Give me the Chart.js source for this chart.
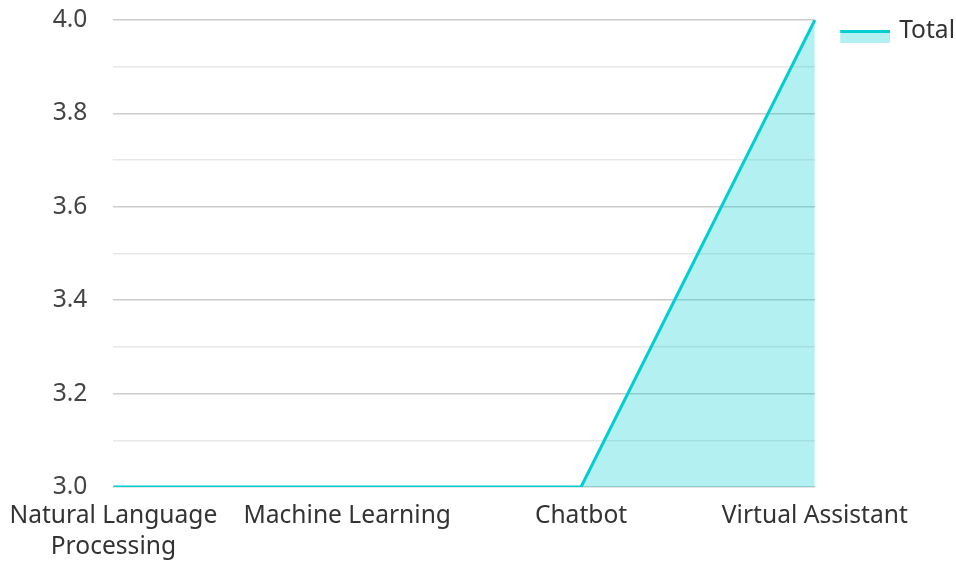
<!DOCTYPE html>
<html lang="en">
  <head>
    <meta charset="UTF-8" />
    <title>Total</title>
    <script src="https://cdn.jsdelivr.net/npm/chart.js"></script>
    <style>
      html, body { margin: 0; padding: 0; background: #fff; }
      #wrap { width: 956px; height: 561px; }
    </style>
  </head>
  <body>
    <div id="wrap"><canvas id="chart" width="956" height="561"></canvas></div>
    <script>
      // Daten
      const categories = [["Natural Language", "Processing"], "Machine Learning", "Chatbot", "Virtual Assistant"];
      const totalValues = [3, 3, 3, 4];
      const seriesName = "Total";

      const lineColor = "#00CED1";
      const fillColor = "rgba(0, 206, 209, 0.3)";
      const fontSize = 24.6;

      // Legendensymbol: dicke Linie oben, helle Flaeche darunter
      // (Canvas groesser als das Symbol, damit Abstand und Hoehe stimmen)
      const symW = 53.3;
      const swatch = document.createElement("canvas");
      swatch.width = 60;
      swatch.height = 26;
      const sctx = swatch.getContext("2d");
      sctx.fillStyle = fillColor;
      sctx.fillRect(swatch.width - 50, 15, 50, 10);
      sctx.fillStyle = lineColor;
      sctx.fillRect(swatch.width - 50, 12, 50, 3);

      Chart.defaults.font.family = "'Noto Sans', sans-serif";

      const ctx = document.getElementById("chart").getContext("2d");
      const chart = new Chart(ctx, {
        type: "line",
        data: {
          labels: categories,
          datasets: [
            {
              label: seriesName,
              data: totalValues,
              borderColor: lineColor,
              backgroundColor: fillColor,
              borderWidth: 3,
              fill: "start",
              pointRadius: 0,
              tension: 0,
              pointStyle: swatch,
            },
          ],
        },
        options: {
          responsive: false,
          animation: false,
          layout: { padding: { top: 0, left: 0, right: -9, bottom: 0 } },
          plugins: {
            legend: {
              position: "right",
              align: "start",
              labels: {
                usePointStyle: true,
                pointStyleWidth: symW,
                color: "#333",
                font: { size: fontSize },
                padding: 18.7,
              },
            },
            tooltip: { enabled: false },
          },
          scales: {
            x: {
              offset: false,
              grid: { display: false, drawTicks: true, tickLength: 4 },
              border: { display: false },
              ticks: {
                color: "#333",
                font: { size: fontSize, lineHeight: 1.26 },
                padding: 9.5,
                maxRotation: 0,
                autoSkip: false,
              },
              afterFit: function (scale) {
                scale.height = 74;
              },
            },
            y: {
              min: 3,
              max: 4,
              border: { display: false },
              grid: {
                drawTicks: true,
                tickLength: 20.75,
                tickColor: "rgba(0,0,0,0)",
                color: function (c) {
                  // jede zweite Linie (beschriftet) dunkler
                  return Math.round(c.tick.value * 10) % 2 === 0 ? "#cccccc" : "#e8e8e8";
                },
                lineWidth: 1.5,
              },
              ticks: {
                stepSize: 0.1,
                autoSkip: false,
                color: "#444",
                font: { size: fontSize },
                padding: 5.25,
                callback: function (value) {
                  return Math.round(value * 10) % 2 === 0 ? value.toFixed(1) : "";
                },
              },
              afterFit: function (scale) {
                scale.width = 113;
              },
            },
          },
        },
      });
    </script>
  </body>
</html>
